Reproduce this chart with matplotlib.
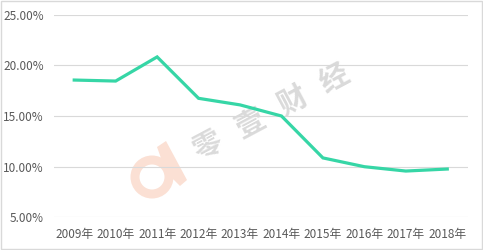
import matplotlib
matplotlib.use("Agg")
import matplotlib.pyplot as plt
from matplotlib.patches import Circle, Polygon, Rectangle

plt.rcParams['font.family'] = ['Noto Sans CJK SC', 'DejaVu Sans']

years = ["2009年", "2010年", "2011年", "2012年", "2013年",
         "2014年", "2015年", "2016年", "2017年", "2018年"]
rates = [18.56, 18.46, 20.85, 16.75, 16.1, 15.0, 10.85, 9.98, 9.55, 9.75]
yticks = [5, 10, 15, 20, 25]
mark = ["零", "壹", "财", "经"]

fig = plt.figure(figsize=(4.83, 2.5), dpi=100)
fig.patch.set_facecolor("white")

# watermark layer in pixel coords
bg = fig.add_axes([0, 0, 1, 1], zorder=0)
bg.set_xlim(0, 483)
bg.set_ylim(250, 0)
bg.axis("off")
logo = "#fbe0d4"
bg.add_patch(Circle((152, 177), 21.5, facecolor=logo, edgecolor="none"))
bg.add_patch(Circle((152, 177), 12.5, facecolor="white", edgecolor="none"))
bg.add_patch(Polygon([(157, 147), (166, 141), (187, 180), (180, 186), (166, 172)],
                     closed=True, facecolor=logo, edgecolor="none"))
for i, ch in enumerate(mark):
    bg.text(208 + 42 * i, 146 - 22.5 * i, ch, rotation=28, fontsize=21,
            color="#dadada", ha="center", va="center", fontweight="bold")
bg.add_patch(Rectangle((1, 1), 481, 248, fill=False, edgecolor="#d9d9d9", lw=1))

ax = fig.add_axes([53.5 / 483, 33 / 250, 414.5 / 483, 202 / 250], zorder=1)
ax.patch.set_alpha(0)
x = range(len(years))
ax.plot(x, rates, color="#36d6a6", lw=2.3, solid_joinstyle="miter")
ax.set_xlim(-0.5, len(years) - 0.5)
ax.set_ylim(5, 25)
ax.set_yticks(yticks)
ax.set_yticklabels([f"{v:.2f}%" for v in yticks])
ax.set_xticks(list(x))
ax.set_xticklabels(years)
ax.grid(axis="y", color="#d9d9d9", lw=0.8)
ax.set_axisbelow(True)
for s in ax.spines.values():
    s.set_visible(False)
ax.tick_params(length=0, labelsize=8.5, colors="#595959", pad=8)
ax.tick_params(axis="y", pad=7)

fig.savefig("out.png", dpi=100)
